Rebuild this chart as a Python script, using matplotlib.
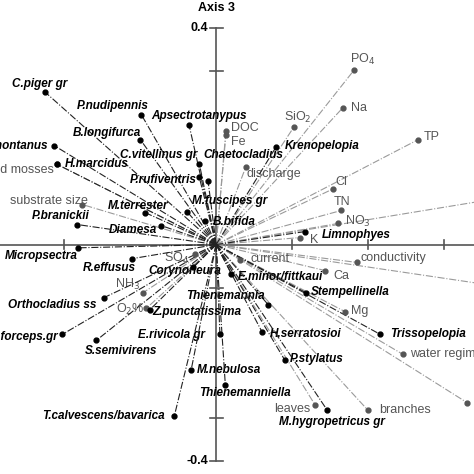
import matplotlib
matplotlib.use('Agg')
import matplotlib.pyplot as plt

plt.rcParams['font.family'] = ['Liberation Sans', 'DejaVu Sans']

# species scores (axis units) and label offsets (px dx, dy, ha)
sp_names = ['C.piger gr', 'P.nudipennis', 'Apsectrotanypus', 'B.longifurca', 'P.montanus',
            'H.marcidus', 'C.vitellinus gr', 'Chaetocladius', 'P.rufiventris', 'M.terrester',
            'Diamesa', 'P.branickii', 'M.fuscipes gr', 'B.bifida', 'Micropsectra', 'R.effusus',
            'Corynoneura', 'E.minor/fittkaui', 'Thienemannia', 'Z.punctatissima',
            'Orthocladius ss', 'T.forceps.gr', 'S.semivirens', 'E.rivicola gr', 'M.nebulosa',
            'Thienemanniella', 'T.calvescens/bavarica', 'Krenopelopia', 'Limnophyes',
            'Stempellinella', 'H.serratosioi', 'P.stylatus', 'M.hygropetricus gr', 'Trissopelopia']
sp_x = [-0.316, -0.138, -0.050, -0.140, -0.299, -0.293, -0.031, -0.015, -0.031, -0.131,
        -0.101, -0.256, -0.054, -0.020, -0.255, -0.155, -0.042, 0.028, 0.096, -0.122,
        -0.207, -0.284, -0.221, 0.007, -0.046, 0.017, -0.077, 0.111, 0.164,
        0.166, 0.085, 0.127, 0.205, 0.303]
sp_y = [0.282, 0.240, 0.221, 0.194, 0.183, 0.148, 0.149, 0.118, 0.124, 0.059,
        0.035, 0.037, 0.061, 0.044, -0.006, -0.026, -0.042, -0.054, -0.111, -0.120,
        -0.098, -0.166, -0.177, -0.166, -0.231, -0.260, -0.316, 0.181, 0.024,
        -0.089, -0.162, -0.214, -0.306, -0.166]
sp_off = [(-5, 8, 'center'), (-29, 9, 'center'), (-38, 9, 'left'), (1, 7, 'right'), (-6, 0, 'right'),
          (7, 0, 'left'), (-2, 9, 'right'), (-5, 26, 'left'), (-3, -3, 'right'), (-7, 7, 'center'),
          (-4, -4, 'right'), (-17, 9, 'center'), (5, 11, 'left'), (7, -1, 'left'), (0, -8, 'right'),
          (4, -9, 'right'), (-9, -4, 'center'), (6, -3, 'left'), (-82, 9, 'left'), (2, -2, 'left'),
          (-8, -7, 'right'), (-4, -3, 'right'), (-12, -11, 'left'), (-15, -1, 'right'), (6, 0, 'left'),
          (-26, -8, 'left'), (-10, 0, 'right'), (9, 1, 'left'), (17, -3, 'left'),
          (5, 1, 'left'), (8, -2, 'left'), (5, 1, 'left'), (-48, -12, 'left'), (10, 0, 'left')]

# environmental variables (points beyond the frame have no visible label)
env_names = ['PO$_4$', 'Na', 'SiO$_2$', 'DOC', 'Fe', 'TP', 'discharge', 'Cl', 'TN', 'NO$_3$',
             'K', 'current', 'conductivity', 'Ca', 'Mg', 'water regime', 'branches', 'leaves',
             '', 'wood and mosses', 'substrate size', 'NH$_3$', 'SO$_4$', 'O$_2$%',
             '', '']
env_x = [0.255, 0.234, 0.144, 0.018, 0.018, 0.373, 0.055, 0.216, 0.231, 0.225,
         0.155, 0.044, 0.260, 0.201, 0.238, 0.345, 0.280, 0.183,
         0.463, -0.293, -0.247, -0.135, -0.039, -0.129,
         0.561, 0.561]
env_y = [0.323, 0.253, 0.218, 0.210, 0.203, 0.194, 0.144, 0.103, 0.063, 0.039,
         0.013, -0.028, -0.033, -0.048, -0.124, -0.203, -0.306, -0.297,
         -0.292, 0.148, 0.074, -0.089, -0.018, -0.118,
         0.092, -0.083]
env_off = [(-4, 10, 'left'), (8, 0, 'left'), (-10, 9, 'left'), (5, 3, 'left'), (5, -7, 'left'),
           (5, 3, 'left'), (1, -7, 'left'), (2, 7, 'left'), (-8, 8, 'left'), (7, 2, 'left'),
           (10, -2, 'left'), (11, 1, 'left'), (4, 4, 'left'), (8, -5, 'left'), (6, 1, 'left'),
           (7, 0, 'left'), (11, 0, 'left'), (-5, -4, 'right'),
           (8, 0, 'left'), (-4, -6, 'right'), (6, 4, 'right'), (-3, 8, 'right'), (-31, -4, 'left'),
           (-2, -1, 'right'), (8, 0, 'left'), (8, 0, 'left')]

fig = plt.figure(figsize=(4.74, 4.74), dpi=100)
ax = fig.add_axes([0, 0, 1, 1])
ax.set_xlim(-0.399, 0.476)
ax.set_ylim(-0.424, 0.452)
ax.axis('off')

# axes cross
ax.plot([0, 0], [-0.4, 0.4], color='#555555', lw=1.2, zorder=1)
ax.plot([-0.4, 0.5], [0, 0], color='#555555', lw=1.2, zorder=1)
for t in [-0.4, -0.32, -0.08, 0.32, 0.4]:
    ax.plot([-0.012, 0.012], [t, t], color='#555555', lw=1.2)
for t in [-0.28, 0.14, 0.28, 0.42]:
    ax.plot([t, t], [-0.009, 0.009], color='#555555', lw=1.2)
ax.text(0, 0.437, 'Axis 3', ha='center', va='center', fontsize=9, fontweight='bold')
ax.text(-0.014, 0.400, '0.4', ha='right', va='center', fontsize=9, fontweight='bold')
ax.text(-0.014, -0.400, '-0.4', ha='right', va='center', fontsize=9, fontweight='bold')

for x, y, n, (dx, dy, ha) in zip(env_x, env_y, env_names, env_off):
    ax.plot([0, x], [0, y], ls='-.', color='#9a9a9a', lw=0.8, zorder=2)
    ax.plot(x, y, 'o', color='#555555', ms=3.5, zorder=4)
    if n:
        ax.annotate(n, (x, y), xytext=(dx, dy), textcoords='offset pixels', ha=ha, va='center',
                    fontsize=9, color='#555555', annotation_clip=False)

for x, y, n, (dx, dy, ha) in zip(sp_x, sp_y, sp_names, sp_off):
    ax.plot([0, x], [0, y], ls='-.', color='#222222', lw=0.8, zorder=3)
    ax.plot(x, y, 'o', color='black', ms=3.5, zorder=5)
    ax.annotate(n, (x, y), xytext=(dx, dy), textcoords='offset pixels', ha=ha, va='center',
                fontsize=8.5, fontweight='bold', fontstyle='italic', color='black',
                annotation_clip=False)

fig.savefig('out.png', dpi=100)
